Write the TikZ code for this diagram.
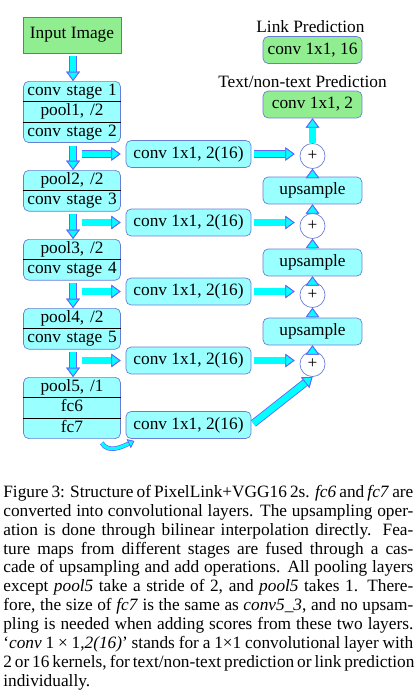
\documentclass[tikz,border=0pt]{standalone}
\usepackage{fontspec}
\setmainfont{Liberation Serif}
\usepackage{xcolor}
\usetikzlibrary{arrows.meta,positioning,shapes.multipart}

\definecolor{stagecyan}{RGB}{153,255,255}
\definecolor{predgreen}{RGB}{144,238,144}
\definecolor{edgeblue}{RGB}{105,125,215}
\definecolor{flowcyan}{RGB}{0,255,255}
\definecolor{flowedge}{RGB}{100,100,255}

\newcommand{\rowstrut}{\rule[-2.9pt]{0pt}{10.4pt}}
\newcommand{\capline}[1]{\makebox[237pt][s]{#1}}

\begin{document}
\begin{tikzpicture}[
  x=0.578pt, y=-0.578pt,
  % Block styles
  stage/.style={
    rectangle split, rectangle split draw splits=false,
    draw=edgeblue, fill=stagecyan, rounded corners=3pt, anchor=north,
    inner xsep=0pt, inner ysep=0.5pt, text width=56pt, align=center
  },
  conv/.style={
    draw=edgeblue, fill=stagecyan, rounded corners=3pt,
    minimum width=72.3pt, minimum height=15.6pt, inner sep=0pt
  },
  headbox/.style={conv, minimum width=57.2pt},
  pred/.style={headbox, fill=predgreen},
  sum/.style={circle, draw=edgeblue, fill=white, minimum size=14.5pt, inner sep=0pt},
  flow/.style={
    line width=3.6pt, draw=flowcyan,
    -{Triangle[length=5.4pt, width=7.8pt, line width=0.5pt, color=flowedge, fill=flowcyan]},
    preaction={draw=flowedge, line width=4.6pt,
      -{Triangle[length=5.4pt, width=7.8pt, line width=0.5pt, color=flowedge, fill=flowedge]}}
  },
  loopflow/.style={
    line width=1.8pt, draw=flowcyan,
    -{Triangle[length=3.5pt, width=5.5pt, line width=0.4pt, color=flowedge, fill=flowcyan]},
    preaction={draw=flowedge, line width=2.6pt,
      -{Triangle[length=3.5pt, width=5.5pt, line width=0.4pt, color=flowedge, fill=flowedge]}}
  },
  label/.style={inner sep=0pt}
]
\useasboundingbox (0,0) rectangle (419,700);

% ── Input image ──────────────────────────────────────────────────────────────
\node[draw=flowedge, fill=predgreen, minimum width=56.6pt, minimum height=20.8pt,
      inner sep=0pt] (img) at (72,35) {Input Image};

% ── VGG16 stages ─────────────────────────────────────────────────────────────
\node[stage, rectangle split parts=3] (b1) at (72,81)
  {\rowstrut conv stage 1\nodepart{two}\rowstrut pool1, /2\nodepart{three}\rowstrut conv stage 2};
\node[stage, rectangle split parts=2] (b2) at (72,170)
  {\rowstrut pool2, /2\nodepart{two}\rowstrut conv stage 3};
\node[stage, rectangle split parts=2] (b3) at (72,239)
  {\rowstrut pool3, /2\nodepart{two}\rowstrut conv stage 4};
\node[stage, rectangle split parts=2] (b4) at (72,308)
  {\rowstrut pool4, /2\nodepart{two}\rowstrut conv stage 5};
\node[stage, rectangle split parts=3] (b5) at (72,377)
  {\rowstrut pool5, /1\nodepart{two}\rowstrut fc6\nodepart{three}\rowstrut fc7};

% stage separators
\foreach \b in {b1,b2,b3,b4,b5}
  \draw (\b.text split west) -- (\b.text split east);
\foreach \b in {b1,b5}
  \draw (\b.two split west) -- (\b.two split east);

% ── Score convolutions ───────────────────────────────────────────────────────
\node[conv] (c1) at (188.5,154)   {conv 1x1, 2(16)};
\node[conv] (c2) at (188.5,222.5) {conv 1x1, 2(16)};
\node[conv] (c3) at (188.5,291.5) {conv 1x1, 2(16)};
\node[conv] (c4) at (188.5,360.5) {conv 1x1, 2(16)};
\node[conv] (c5) at (188.5,425)   {conv 1x1, 2(16)};

% ── Fusion column ────────────────────────────────────────────────────────────
\node[sum] (p1) at (312.5,156) {+};
\node[sum] (p2) at (312.5,226) {+};
\node[sum] (p3) at (312.5,295) {+};
\node[sum] (p4) at (312.5,364) {+};
\node[headbox] (up1) at (312.5,190.5) {upsample};
\node[headbox] (up2) at (312.5,262.5) {upsample};
\node[headbox] (up3) at (312.5,331.5) {upsample};

% ── Prediction heads ─────────────────────────────────────────────────────────
\node[pred] (txt)  at (312.5,104.5) {conv 1x1, 2};
\node[pred] (link) at (312.5,50)    {conv 1x1, 16};
\node[label, above=1.6pt of txt, xshift=-5.8pt]  {Text/non-text Prediction};
\node[label, above=1.6pt of link, xshift=-1.2pt] {Link Prediction};

% ── Arrows: down the backbone ────────────────────────────────────────────────
\foreach \a/\b in {img/b1, b1/b2, b2/b3, b3/b4, b4/b5}
  \draw[flow, shorten <=1.7pt] ([xshift=0.6pt]\a.south) -- ([xshift=0.6pt]\b.north);

% ── Arrows: stages -> score convs -> sums ────────────────────────────────────
\foreach \i in {1,...,4} {
  \draw[flow, shorten >=2.9pt] ([xshift=-25.4pt]c\i.west) -- (c\i.west);
  \draw[flow, shorten <=1.5pt, shorten >=2.9pt] (c\i.east) -- (c\i.east -| p\i.west);
}
\draw[flow, shorten <=1.5pt] (c5.east) -- (p4.south);
\draw[loopflow] ([shift={(-11pt,-2.3pt)}]b5.south east) to[out=-60, in=205]
  ([shift={(5pt,-1.3pt)}]c5.south west);

% ── Arrows: up the fusion column ─────────────────────────────────────────────
\foreach \a/\b in {p4/up3, up3/p3, p3/up2, up2/p2, p2/up1, up1/p1, p1/txt}
  \draw[flow] (\a.north) -- (\b.south);

% ── Caption ──────────────────────────────────────────────────────────────────
\node[anchor=north west, inner sep=0pt, align=left,
      font=\fontsize{10}{10.9}\selectfont] (cap) at (3,485) {%
\capline{Figure 3: Structure of PixelLink+VGG16 2s. \textit{fc6} and \textit{fc7} are}\\
\capline{converted into convolutional layers. The upsampling oper-}\\
\capline{ation is done through bilinear interpolation directly. Fea-}\\
\capline{ture maps from different stages are fused through a cas-}\\
\capline{cade of upsampling and add operations. All pooling layers}\\
\capline{except \textit{pool5} take a stride of 2, and \textit{pool5} takes 1. There-}\\
\capline{fore, the size of \textit{fc7} is the same as \textit{conv5\_3}, and no upsam-}\\
\capline{pling is needed when adding scores from these two layers.}\\
\capline{`\textit{conv} 1 × 1,\textit{2(16)}' stands for a 1×1 convolutional layer with}\\
\capline{2 or 16 kernels, for text/non-text prediction or link prediction}\\
individually.};

\end{tikzpicture}
\end{document}
